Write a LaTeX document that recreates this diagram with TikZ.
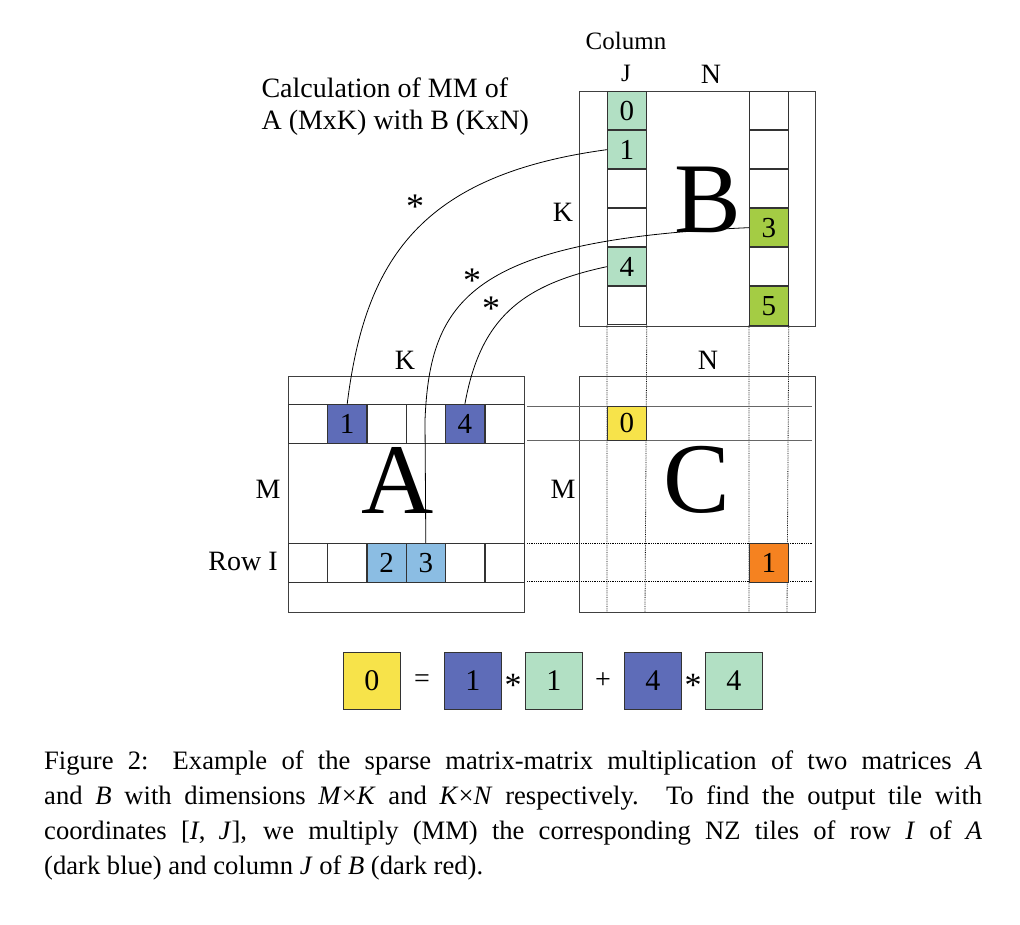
\documentclass[tikz,border=0pt]{standalone}
\usepackage{fontspec}
\setmainfont{Liberation Serif}
\definecolor{dblue}{HTML}{5E6CB8}
\definecolor{lblue}{HTML}{8BBDE3}
\definecolor{lgreen}{HTML}{B2E0C4}
\definecolor{bgreen}{HTML}{A4CC44}
\definecolor{cyel}{HTML}{F7E34A}
\definecolor{corange}{HTML}{F58220}
\begin{document}
\begin{tikzpicture}[x=1pt,y=-1pt,
  cell/.style={draw=black!80,line width=0.8pt,minimum width=39pt,minimum height=38.5pt,inner sep=0pt,anchor=north west,font=\fontsize{29}{29}\selectfont},
  big/.style={font=\fontsize{100}{100}\selectfont},
  lab/.style={font=\fontsize{28}{28}\selectfont},
  frame/.style={draw=black!75,line width=0.9pt},
  dot/.style={densely dotted,line width=0.8pt},
  conn/.style={line width=0.8pt},
  eq/.style={draw=black!80,line width=0.8pt,minimum size=57pt,inner sep=0pt,anchor=north west,font=\fontsize{30}{30}\selectfont}]
\useasboundingbox (0,0) rectangle (1020,925);
% B matrix
\node[frame,minimum width=236pt,minimum height=235pt,anchor=north west] (Bf) at (579,91) {};
\foreach \i in {0,...,5}{\node[cell] (bj\i) at (607,91+39*\i) {};
  \node[cell] (bk\i) at (749,91+39*\i) {};}
\node[cell,fill=lgreen] (b0) at (607,91) {0};
\node[cell,fill=lgreen] (b1) at (607,130) {1};
\node[cell,fill=lgreen] (b4) at (607,247) {4};
\node[cell,fill=bgreen] (b3) at (749,208) {3};
\node[cell,fill=bgreen] (b5) at (749,286.5) {5};
\node[big] (Bl) at (708,200) {B};
\node[lab] (Kb) at (563,212) {K};
\node[lab,font=\fontsize{25}{25}\selectfont] (Jl) at (626,73) {J};
\node[lab,font=\fontsize{25}{25}\selectfont] (Col) at (626,41) {Column};
\node[lab] (Nb) at (711,74) {N};
\node[lab,align=left,anchor=west,font=\fontsize{28}{32}\selectfont] (title) at (258,107) {Calculation of MM of\\A (MxK) with B (KxN)};
% A matrix
\node[frame,minimum width=236pt,minimum height=236pt,anchor=north west] (Af) at (288,376) {};
\foreach \i in {0,...,5}{\node[cell] (ar\i) at (288+39.3*\i,404) {};
  \node[cell] (ai\i) at (288+39.3*\i,543) {};}
\node[cell,fill=dblue] (a1) at (327.3,404) {1};
\node[cell,fill=dblue] (a4) at (445,404) {4};
\node[cell,fill=lblue] (a2) at (366.6,543) {2};
\node[cell,fill=lblue] (a3) at (405.9,543) {3};
\node[big] (Al) at (398,480) {A};
\node[lab] (Ka) at (405,360) {K};
\node[lab] (Ma) at (268,489) {M};
\node[lab] (RowI) at (243,561) {Row I};
% C matrix
\draw[dot] (bj5.south west) -- (607,612) (bj5.south east) -- (645,612)
  (bk5.south west) -- (749,612) (bk5.south east) -- (787,612);
\node[frame,minimum width=236pt,minimum height=236pt,anchor=north west] (Cf) at (579,376) {};
\draw[black!60,line width=0.8pt] (527,406) -- (812,406) (527,440) -- (812,440);
\draw[dot] (527,543) -- (812,543) (527,581) -- (812,581);
\node[cell,fill=cyel,minimum height=34pt] (c0) at (607,406) {0};
\node[cell,fill=corange] (c1) at (749,543) {1};
\node[big] (Cl) at (697,480) {C};
\node[lab] (Mc) at (563,489) {M};
\node[lab] (Nc) at (708,360) {N};
% connectors
\draw[conn] (a1.north) .. controls (365,260) and (420,175) .. (b1.west);
\draw[conn] (a3.north) -- (425,420) .. controls (430,300) and (470,240) .. (b3.west);
\draw[conn] (a4.north) .. controls (480,320) and (520,285) .. (b4.west);
\node[font=\fontsize{36}{36}\selectfont] (s1) at (415,207) {*};
\node[font=\fontsize{36}{36}\selectfont] (s2) at (472,281) {*};
\node[font=\fontsize{36}{36}\selectfont] (s3) at (491,309) {*};
% equation
\node[eq,fill=cyel] (e0) at (343,652) {0};
\node[lab] (eqs) at (422,681) {=};
\node[eq,fill=dblue] (e1) at (444,652) {1};
\node[font=\fontsize{34}{34}\selectfont] (m1) at (513,685) {*};
\node[eq,fill=lgreen] (e2) at (525,652) {1};
\node[lab] (pl) at (603,681) {+};
\node[eq,fill=dblue] (e3) at (624,652) {4};
\node[font=\fontsize{34}{34}\selectfont] (m2) at (693,685) {*};
\node[eq,fill=lgreen] (e4) at (705,652) {4};
% caption
\node[anchor=north west,text width=938pt,align=justify,font=\fontsize{26.6}{35}\selectfont,inner sep=0pt] (cap) at (44,751) {Figure 2: Example of the sparse matrix-matrix multiplication of two matrices \textit{A}\linebreak and \textit{B} with dimensions \textit{M}×\textit{K} and \textit{K}×\textit{N} respectively. To find the output tile with\linebreak coordinates \mbox{[\textit{I},\ \ \textit{J}]}, we multiply (MM) the corresponding NZ tiles of row \textit{I} of \textit{A}\linebreak (dark blue) and column \textit{J} of \textit{B} (dark red).};
\end{tikzpicture}
\end{document}
